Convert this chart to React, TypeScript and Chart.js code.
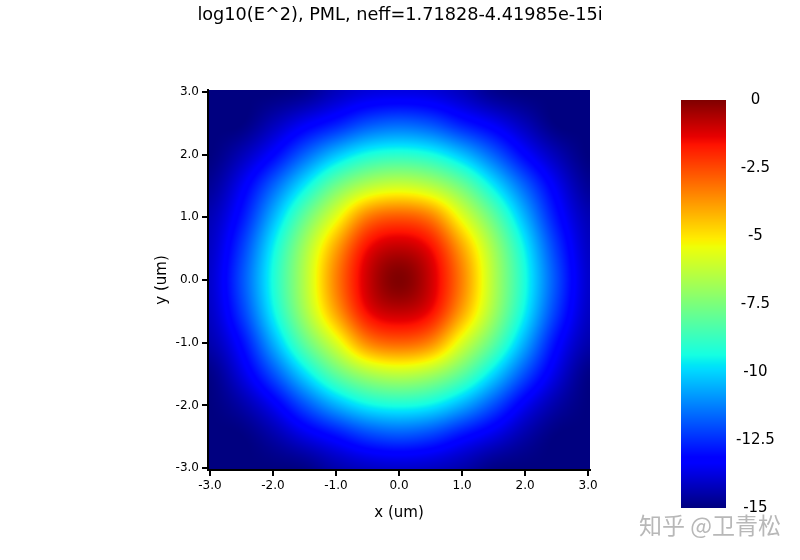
import React, { useEffect, useRef } from "react";
import { Chart, registerables } from "chart.js";

Chart.register(...registerables);

const TITLE = "log10(E^2), PML, neff=1.71828-4.41985e-15i";
const X_LABEL = "x (um)";
const Y_LABEL = "y (um)";
const WATERMARK = "知乎 @卫青松";

const xCoords = [-3, -2.5, -2, -1.5, -1, -0.5, 0, 0.5, 1, 1.5, 2, 2.5, 3];
const yCoords = [3, 2.5, 2, 1.5, 1, 0.5, 0, -0.5, -1, -1.5, -2, -2.5, -3];
const axisTicks = [-3, -2, -1, 0, 1, 2, 3];
const colorbarTicks = [0, -2.5, -5, -7.5, -10, -12.5, -15];
const V_MIN = -15;
const V_MAX = 0;

// log10(E^2), rows from y=3 (top) to y=-3 (bottom)
const fieldY3 = [-15, -15, -15, -14.8, -14.2, -13.8, -13.7, -13.8, -14.2, -14.8, -15, -15, -15];
const fieldY25 = [-15, -15, -14.3, -13.5, -12.8, -12.0, -11.7, -12.0, -12.8, -13.5, -14.3, -15, -15];
const fieldY2 = [-15, -14.3, -13.2, -11.7, -10.3, -9.3, -9.0, -9.3, -10.3, -11.7, -13.2, -14.3, -15];
const fieldY15 = [-14.7, -13.5, -11.7, -9.7, -7.75, -6.45, -6.0, -6.45, -7.75, -9.7, -11.7, -13.5, -14.7];
const fieldY1 = [-14.3, -12.9, -10.5, -7.95, -5.6, -3.3, -2.7, -3.3, -5.6, -7.95, -10.5, -12.9, -14.3];
const fieldY05 = [-14.1, -12.3, -9.6, -6.8, -3.95, -1.5, -0.8, -1.5, -3.95, -6.8, -9.6, -12.3, -14.1];
const fieldY0 = [-14.0, -12.0, -9.3, -6.5, -3.4, -1.0, 0, -1.0, -3.4, -6.5, -9.3, -12.0, -14.0];
const fieldYm05 = [-14.1, -12.3, -9.6, -6.8, -3.95, -1.5, -0.85, -1.5, -3.95, -6.8, -9.6, -12.3, -14.1];
const fieldYm1 = [-14.4, -13.05, -10.6, -8.05, -5.8, -3.5, -2.9, -3.5, -5.8, -8.05, -10.6, -13.05, -14.4];
const fieldYm15 = [-14.9, -13.75, -12.0, -9.95, -8.05, -6.75, -6.3, -6.75, -8.05, -9.95, -12.0, -13.75, -14.9];
const fieldYm2 = [-15, -14.5, -13.5, -12.0, -10.6, -9.6, -9.3, -9.6, -10.6, -12.0, -13.5, -14.5, -15];
const fieldYm25 = [-15, -15, -14.5, -13.75, -13.05, -12.3, -12.0, -12.3, -13.05, -13.75, -14.5, -15, -15];
const fieldYm3 = [-15, -15, -15, -14.9, -14.4, -14.1, -14.0, -14.1, -14.4, -14.9, -15, -15, -15];

const field = [
  fieldY3, fieldY25, fieldY2, fieldY15, fieldY1, fieldY05, fieldY0,
  fieldYm05, fieldYm1, fieldYm15, fieldYm2, fieldYm25, fieldYm3,
];

const JET_R = [[0, 0], [0.35, 0], [0.66, 1], [0.89, 1], [1, 0.5]];
const JET_G = [[0, 0], [0.125, 0], [0.375, 1], [0.64, 1], [0.91, 0], [1, 0]];
const JET_B = [[0, 0.5], [0.11, 1], [0.34, 1], [0.65, 0], [1, 0]];

function seg(t: number, pts: number[][]) {
  for (let i = 1; i < pts.length; i++) {
    if (t <= pts[i][0]) {
      const [t0, v0] = pts[i - 1];
      const [t1, v1] = pts[i];
      return v0 + ((v1 - v0) * (t - t0)) / (t1 - t0);
    }
  }
  return pts[pts.length - 1][1];
}

function jet(v: number): [number, number, number] {
  let t = (v - V_MIN) / (V_MAX - V_MIN);
  t = Math.max(0, Math.min(1, t));
  return [
    Math.round(255 * seg(t, JET_R)),
    Math.round(255 * seg(t, JET_G)),
    Math.round(255 * seg(t, JET_B)),
  ];
}

function cr(p0: number, p1: number, p2: number, p3: number, t: number) {
  return (
    0.5 *
    (2 * p1 +
      (-p0 + p2) * t +
      (2 * p0 - 5 * p1 + 4 * p2 - p3) * t * t +
      (-p0 + 3 * p1 - 3 * p2 + p3) * t * t * t)
  );
}

function cell(r: number, c: number) {
  const n = field.length;
  const m = field[0].length;
  const rr = Math.max(0, Math.min(n - 1, r));
  const cc = Math.max(0, Math.min(m - 1, c));
  return field[rr][cc];
}

function sampleField(x: number, y: number) {
  const m = xCoords.length;
  const n = yCoords.length;
  let gx = (x - xCoords[0]) / (xCoords[1] - xCoords[0]);
  let gy = (y - yCoords[0]) / (yCoords[1] - yCoords[0]);
  gx = Math.max(0, Math.min(m - 1, gx));
  gy = Math.max(0, Math.min(n - 1, gy));
  let ix = Math.floor(gx);
  let iy = Math.floor(gy);
  if (ix >= m - 1) ix = m - 2;
  if (iy >= n - 1) iy = n - 2;
  const fx = gx - ix;
  const fy = gy - iy;
  const rows: number[] = [];
  for (let k = -1; k <= 2; k++) {
    const r = iy + k;
    rows.push(cr(cell(r, ix - 1), cell(r, ix), cell(r, ix + 1), cell(r, ix + 2), fx));
  }
  return cr(rows[0], rows[1], rows[2], rows[3], fy);
}

const heatmapPlugin = {
  id: "heatmap",
  beforeDraw(chart: any) {
    const { ctx, chartArea, scales } = chart;
    const xs = scales.x;
    const ys = scales.y;
    const left = Math.round(chartArea.left);
    const top = Math.round(chartArea.top);
    const w = Math.round(chartArea.right) - left;
    const h = Math.round(chartArea.bottom) - top;
    const off = document.createElement("canvas");
    off.width = w;
    off.height = h;
    const octx = off.getContext("2d")!;
    const img = octx.createImageData(w, h);
    const xv: number[] = [];
    for (let px = 0; px < w; px++) xv.push(xs.getValueForPixel(left + px + 0.5));
    for (let py = 0; py < h; py++) {
      const yv = ys.getValueForPixel(top + py + 0.5);
      for (let px = 0; px < w; px++) {
        const [r, g, b] = jet(sampleField(xv[px], yv));
        const o = (py * w + px) * 4;
        img.data[o] = r;
        img.data[o + 1] = g;
        img.data[o + 2] = b;
        img.data[o + 3] = 255;
      }
    }
    octx.putImageData(img, 0, 0);
    ctx.save();
    ctx.drawImage(off, left, top, w, h);
    ctx.restore();
  },
  afterDraw(chart: any) {
    const { ctx } = chart;
    ctx.save();
    ctx.fillStyle = "#000";
    ctx.font = "17.7px 'DejaVu Sans'";
    ctx.textAlign = "center";
    ctx.textBaseline = "middle";
    ctx.fillText(TITLE, 400, 15);
    ctx.font = "23px 'Noto Sans CJK SC'";
    ctx.fillStyle = "#b8b8b8";
    ctx.textAlign = "right";
    ctx.fillText(WATERMARK, 781, 525);
    ctx.restore();
  },
};

const colorbarPlugin = {
  id: "colorbar",
  beforeDraw(chart: any) {
    const { ctx, chartArea, scales } = chart;
    const ys = scales.y;
    const top = Math.round(chartArea.top);
    const bottom = Math.round(chartArea.bottom);
    const left = Math.round(chartArea.left);
    const w = Math.round(chartArea.right) - left;
    ctx.save();
    for (let py = top; py < bottom; py++) {
      const v = ys.getValueForPixel(py + 0.5);
      const [r, g, b] = jet(v);
      ctx.fillStyle = `rgb(${r},${g},${b})`;
      ctx.fillRect(left, py, w, 1);
    }
    ctx.restore();
  },
};

export default function App() {
  const mainRef = useRef<HTMLCanvasElement>(null);
  const cbRef = useRef<HTMLCanvasElement>(null);

  useEffect(() => {
    document.body.style.margin = "0";
    Chart.defaults.font.family = "'DejaVu Sans'";
    Chart.defaults.color = "#000";

    const axisCommon = (label: string) => ({
      type: "linear" as const,
      min: -3.03,
      max: 3.03,
      afterBuildTicks: (s: any) => {
        s.ticks = axisTicks.map((v) => ({ value: v }));
      },
      ticks: {
        callback: (v: any) => Number(v).toFixed(1),
        color: "#000",
        font: { size: 12 },
        padding: 3,
        maxRotation: 0,
        autoSkip: false,
      },
      grid: {
        display: true,
        drawOnChartArea: false,
        drawTicks: true,
        tickLength: 6,
        color: "#000",
        lineWidth: 2,
      },
      border: { display: true, color: "#000", width: 2 },
      title: {
        display: true,
        text: label,
        color: "#000",
        font: { size: 15 },
        padding: { top: 4, bottom: 4 },
      },
    });

    const main = new Chart(mainRef.current!, {
      type: "scatter",
      data: { datasets: [{ data: [] }] },
      options: {
        animation: false,
        responsive: false,
        events: [],
        layout: { padding: { left: 149, right: 210, top: 90, bottom: 34 } },
        plugins: {
          legend: { display: false },
          title: { display: false },
          tooltip: { enabled: false },
        },
        scales: {
          x: {
            ...axisCommon(X_LABEL),
            afterFit: (s: any) => {
              s.height = 56;
            },
          },
          y: {
            ...axisCommon(Y_LABEL),
            afterFit: (s: any) => {
              s.width = 59;
            },
          },
        },
      } as any,
      plugins: [heatmapPlugin],
    });

    const cb = new Chart(cbRef.current!, {
      type: "scatter",
      data: { datasets: [{ data: [] }] },
      options: {
        animation: false,
        responsive: false,
        events: [],
        layout: { padding: { left: 681, right: 14, top: 100, bottom: 52 } },
        plugins: {
          legend: { display: false },
          title: { display: false },
          tooltip: { enabled: false },
        },
        scales: {
          x: { display: false, type: "linear", min: 0, max: 1 },
          y: {
            type: "linear",
            position: "right",
            min: V_MIN,
            max: V_MAX,
            afterBuildTicks: (s: any) => {
              s.ticks = colorbarTicks.map((v) => ({ value: v }));
            },
            afterFit: (s: any) => {
              s.width = 60;
            },
            ticks: {
              callback: (v: any) => String(v),
              crossAlign: "center",
              padding: 10,
              color: "#000",
              font: { size: 15 },
            },
            grid: { display: false, drawTicks: false },
            border: { display: false },
          },
        },
      } as any,
      plugins: [colorbarPlugin],
    });

    return () => {
      main.destroy();
      cb.destroy();
    };
  }, []);

  return (
    <div
      style={{
        position: "relative",
        width: 800,
        height: 560,
        overflow: "hidden",
        background: "#fff",
      }}
    >
      <canvas
        ref={mainRef}
        width={800}
        height={560}
        style={{ position: "absolute", left: 0, top: 0 }}
      />
      <canvas
        ref={cbRef}
        width={800}
        height={560}
        style={{ position: "absolute", left: 0, top: 0 }}
      />
    </div>
  );
}
